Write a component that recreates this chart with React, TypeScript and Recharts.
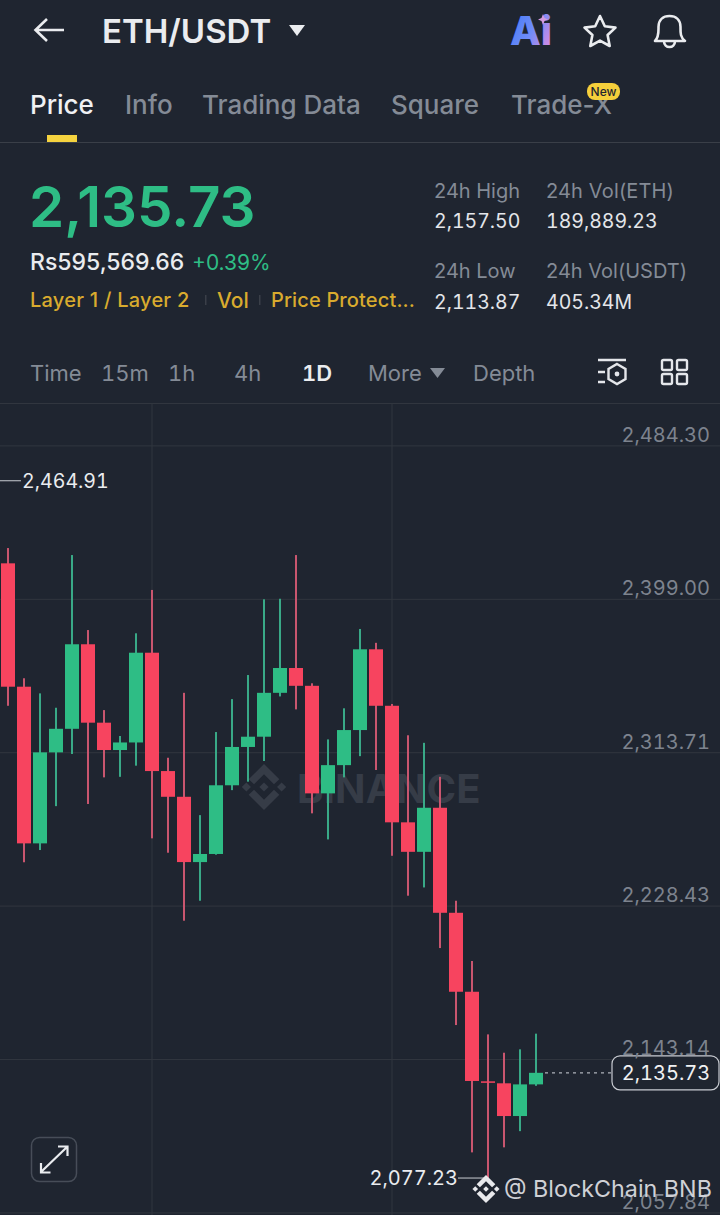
import React from 'react';
import { ComposedChart, Bar, XAxis, YAxis, CartesianGrid, ReferenceDot } from 'recharts';

const FONT = 'Inter, Roboto, sans-serif';
const TNUM: any = { fontVariantNumeric: 'tabular-nums' };
const BG = '#1f2530';
const GRID = '#31363f';
const RED = '#f7445f';
const GREEN = '#2ebd85';

const highs = [2427.5, 2355.1, 2346.7, 2338.7, 2423.6, 2381.9, 2337.4, 2323.0, 2380.1, 2404.2, 2310.9, 2347.0, 2279.0, 2325.2, 2343.5, 2356.9, 2399.0, 2399.3, 2423.6, 2352.3, 2321.1, 2338.4, 2382.5, 2374.8, 2340.8, 2323.4, 2319.2, 2300.3, 2231.4, 2197.9, 2157.1, 2146.9, 2148.8, 2157.5];
const lows = [2339.8, 2252.8, 2259.6, 2284.0, 2313.0, 2285.2, 2300.0, 2300.3, 2306.5, 2266.1, 2258.1, 2220.3, 2231.4, 2257.0, 2292.9, 2297.6, 2309.1, 2345.0, 2337.8, 2280.0, 2265.5, 2300.0, 2311.8, 2304.1, 2256.4, 2234.2, 2238.8, 2205.1, 2162.3, 2091.5, 2077.23, 2094.3, 2103.3, 2128.5];
const opens = [2419.0, 2350.4, 2263.3, 2313.9, 2327.0, 2374.0, 2330.4, 2315.2, 2319.4, 2369.3, 2303.5, 2289.2, 2252.9, 2257.4, 2295.6, 2316.9, 2322.6, 2347.0, 2360.8, 2350.9, 2291.1, 2306.8, 2326.3, 2371.2, 2339.8, 2275.0, 2258.6, 2283.1, 2224.7, 2180.8, 2131.0, 2129.9, 2111.7, 2129.3];
const closes = [2350.4, 2263.3, 2313.9, 2327.0, 2374.0, 2330.4, 2315.2, 2319.4, 2369.3, 2303.5, 2289.2, 2252.9, 2257.4, 2295.6, 2316.9, 2322.6, 2347.0, 2360.8, 2350.9, 2291.1, 2306.8, 2326.3, 2371.2, 2339.8, 2275.0, 2258.6, 2283.1, 2224.7, 2180.8, 2131.2, 2130.2, 2111.7, 2129.3, 2135.73];
const tickValues = [2484.30, 2399.00, 2313.71, 2228.43, 2143.14, 2057.84];
const tickLabels = ['2,484.30', '2,399.00', '2,313.71', '2,228.43', '2,143.14', '2,057.84'];
const slotCount = 45;
const gridSlots = [9, 24];
const periodHigh = { slot: 0, value: 2464.91, label: '2,464.91' };
const periodLow = { slot: 30, value: 2077.23, label: '2,077.23' };
const lastPrice = { slot: 33, value: 2135.73, label: '2,135.73' };

const rows = Array.from({ length: slotCount }, (_, i) =>
  i < highs.length
    ? { slot: i, range: [lows[i], highs[i]], open: opens[i], close: closes[i], high: highs[i], low: lows[i] }
    : { slot: i }
);

function Candle(props: any) {
  const { x, y, width, height, payload } = props;
  if (!payload || payload.high === undefined) return null;
  const top = Math.min(y, y + height);
  const h = Math.abs(height);
  const perUnit = h / (payload.high - payload.low);
  const bodyHi = Math.max(payload.open, payload.close);
  const bodyLo = Math.min(payload.open, payload.close);
  const bodyY = top + (payload.high - bodyHi) * perUnit;
  const bodyH = Math.max((bodyHi - bodyLo) * perUnit, 1.5);
  const up = payload.close >= payload.open;
  const cx = x + width / 2;
  return (
    <g>
      <rect x={cx - 1} y={top} width={2} height={h} fill={up ? '#39a987' : '#c9566f'} />
      <rect x={x} y={bodyY} width={width} height={bodyH} fill={up ? GREEN : RED} />
    </g>
  );
}

function PriceTick(props: any) {
  const { y, index } = props;
  return (
    <text x={710} y={y - 11} textAnchor="end" dominantBaseline="central" fontFamily={FONT} fontSize={20} fill="#7d838e" style={TNUM}>
      {tickLabels[index]}
    </text>
  );
}

function HighMark(props: any) {
  const { cy } = props;
  return (
    <g>
      <line x1={0} x2={21} y1={cy} y2={cy} stroke="#c9ccd2" strokeWidth={1} />
      <text x={22} y={cy} dominantBaseline="central" fontFamily={FONT} fontSize={19.6} fill="#eaecef" style={TNUM}>{periodHigh.label}</text>
    </g>
  );
}

function LowMark(props: any) {
  const { cx, cy } = props;
  return (
    <g>
      <line x1={cx - 30} x2={cx} y1={cy} y2={cy} stroke="#c9ccd2" strokeWidth={1} />
      <text x={cx - 30} y={cy} textAnchor="end" dominantBaseline="central" fontFamily={FONT} fontSize={20} fill="#eaecef" style={TNUM}>{periodLow.label}</text>
    </g>
  );
}

function LastMark(props: any) {
  const { cy } = props;
  return (
    <g>
      <line x1={545} x2={612} y1={cy} y2={cy} stroke="#aeb2b9" strokeWidth={1.2} strokeDasharray="3 4" />
      <rect x={612} y={cy - 17} width={107} height={34} rx={8} fill={BG} stroke="#c9ccd2" strokeWidth={1.2} />
      <text x={666} y={cy} textAnchor="middle" dominantBaseline="central" fontFamily={FONT} fontSize={20} fill="#f0f1f3" style={TNUM}>{lastPrice.label}</text>
    </g>
  );
}

function T({ x, y, size, color, weight = 400, tnum = false, spacing = 0, children }: any) {
  return (
    <span style={{ position: 'absolute', left: x, top: y, transform: 'translateY(-50%)', fontFamily: FONT, fontSize: size, color, fontWeight: weight, whiteSpace: 'nowrap', lineHeight: 1, letterSpacing: spacing, fontVariantNumeric: tnum ? 'tabular-nums' : 'normal' }}>
      {children}
    </span>
  );
}

function Diamond({ x, y, s, color }: any) {
  const u = s / 12;
  return (
    <g transform={`translate(${x},${y}) scale(${u})`} fill={color}>
      <path d="M0 -6 L4 -2 L2.6 -0.7 L0 -3.3 L-2.6 -0.7 L-4 -2 Z" />
      <path d="M0 6 L4 2 L2.6 0.7 L0 3.3 L-2.6 0.7 L-4 2 Z" />
      <path d="M-4.6 -1.2 L-3.4 0 L-4.6 1.2 L-5.8 0 Z" />
      <path d="M4.6 -1.2 L5.8 0 L4.6 1.2 L3.4 0 Z" />
      <path d="M0 -1.2 L1.2 0 L0 1.2 L-1.2 0 Z" />
    </g>
  );
}

const grey = '#848b96';
const light = '#e4e6ea';
const gold = '#d9ab2e';

export default function App() {
  return (
    <div style={{ position: 'absolute', left: 0, top: 0, width: 720, height: 1215, background: BG, overflow: 'hidden' }}>
      <svg width={720} height={404} style={{ position: 'absolute', left: 0, top: 0 }}>
        <defs>
          <linearGradient id="aiGrad" x1="0" y1="0" x2="1" y2="0.6">
            <stop offset="0" stopColor="#3f78f5" />
            <stop offset="0.6" stopColor="#6f8cf8" />
            <stop offset="1" stopColor="#c98be6" />
          </linearGradient>
        </defs>
        <path d="M36 30 H64 M47 19 L35.5 30 L47 41" fill="none" stroke="#eaecef" strokeWidth={2.6} />
        <path d="M289 25 H305 L297 36 Z" fill="#eaecef" />
        <text x={510} y={45} fontFamily={FONT} fontSize={40} fontWeight={800} fill="url(#aiGrad)">Ai</text>
        <path d="M543 14 L544.5 18 L548 19.5 L544.5 21 L543 25 L541.5 21 L538 19.5 L541.5 18 Z" fill="#d49be0" />
        <path d="M600 16 L604.8 26.2 L615.5 27.6 L607.6 35 L609.7 46 L600 40.6 L590.3 46 L592.4 35 L584.5 27.6 L595.2 26.2 Z" fill="none" stroke="#eaecef" strokeWidth={2.6} strokeLinejoin="round" />
        <path d="M655 41 C659 37 658.5 32 658.5 27 C658.5 20 663 16 669.5 16 C676 16 680.5 20 680.5 27 C680.5 32 680 37 685 41 Z" fill="none" stroke="#eaecef" strokeWidth={2.6} strokeLinejoin="round" />
        <path d="M664 41 C664 49 675 49 675 41" fill="none" stroke="#eaecef" strokeWidth={2.6} />
        <line x1={0} x2={720} y1={142.5} y2={142.5} stroke="#3a3f48" strokeWidth={1} />
        <rect x={47} y={135} width={30} height={7} fill="#f5d33f" />
        <rect x={205} y={295} width={1.5} height={10} fill="#3a3f48" />
        <rect x={259} y={295} width={1.5} height={10} fill="#3a3f48" />
        <path d="M430 368 H445 L437.5 378 Z" fill="#848b96" />
        <path d="M598 360 H626 M598 372 H605 M598 382 H605" stroke="#e4e6ea" strokeWidth={2.4} fill="none" />
        <path d="M617 364 L625.5 369 V379 L617 384 L608.5 379 V369 Z" fill="none" stroke="#e4e6ea" strokeWidth={2.4} />
        <circle cx={617} cy={374} r={2.4} fill="#e4e6ea" />
        <g fill="none" stroke="#e4e6ea" strokeWidth={2.4}>
          <rect x={662} y={360} width={10} height={10} rx={1.5} />
          <rect x={677} y={360} width={10} height={10} rx={1.5} />
          <rect x={662} y={374} width={10} height={10} rx={1.5} />
          <rect x={677} y={374} width={10} height={10} rx={1.5} />
        </g>
        <line x1={0} x2={720} y1={403.5} y2={403.5} stroke={GRID} strokeWidth={1} />
      </svg>
      <T x={102} y={31} size={33} color="#eaecef" weight={600}>ETH/USDT</T>
      <T x={30} y={105} size={26} color="#f0f1f3" weight={500}>Price</T>
      <T x={125} y={105} size={26} color={grey} weight={500}>Info</T>
      <T x={202} y={105} size={26} color={grey} weight={500}>Trading Data</T>
      <T x={391} y={105} size={26} color={grey} weight={500}>Square</T>
      <T x={511} y={105} size={26} color={grey} weight={500}>Trade-X</T>
      <div style={{ position: 'absolute', left: 587, top: 83, width: 33, height: 17, borderRadius: 8, background: '#f5cf3b', color: '#1f2530', fontFamily: FONT, fontSize: 12, fontWeight: 500, textAlign: 'center', lineHeight: '17px' }}>New</div>

      <T x={29} y={207} size={56.5} color={GREEN} weight={600}>2,135.73</T>
      <T x={30} y={262} size={23} color="#eaecef" weight={500}>Rs595,569.66</T>
      <T x={192} y={262} size={21} color={GREEN}>+0.39%</T>
      <T x={30} y={300} size={20} color={gold} weight={500} spacing={0.25}>Layer 1 / Layer 2</T>
      <T x={217} y={300} size={21} color={gold} weight={500}>Vol</T>
      <T x={271} y={300} size={20} color={gold} weight={500} spacing={0.15}>Price Protect...</T>

      <T x={434} y={191} size={20} color={grey}>24h High</T>
      <T x={434} y={222} size={19.5} color={light} tnum>2,157.50</T>
      <T x={546} y={191} size={20} color={grey} spacing={0.15}>24h Vol(ETH)</T>
      <T x={546} y={222} size={19.5} color={light} tnum>189,889.23</T>
      <T x={434} y={271} size={20} color={grey}>24h Low</T>
      <T x={434} y={303} size={19.5} color={light} tnum>2,113.87</T>
      <T x={546} y={271} size={20} color={grey}>24h Vol(USDT)</T>
      <T x={546} y={303} size={19.5} color={light} tnum>405.34M</T>

      <T x={30} y={373} size={22} color={grey}>Time</T>
      <T x={101} y={373} size={22} color={grey} tnum>15m</T>
      <T x={168} y={373} size={22} color={grey} tnum>1h</T>
      <T x={234} y={373} size={22} color={grey}>4h</T>
      <T x={302} y={373} size={22} color="#eaecef" weight={600} tnum>1D</T>
      <T x={368} y={373} size={22} color={grey}>More</T>
      <T x={473} y={373} size={22} color={grey}>Depth</T>

      <svg width={720} height={812} style={{ position: 'absolute', left: 0, top: 403 }}>
        <Diamond x={264} y={384} s={46} color="#363c47" />
        <text x={297} y={400} fontFamily={FONT} fontSize={40} fontWeight={700} fill="#363c47" letterSpacing={0.2}>BINANCE</text>
      </svg>

      <div style={{ position: 'absolute', left: 0, top: 403 }}>
        <ComposedChart width={720} height={812} data={rows} margin={{ top: 0, right: 0, bottom: 0, left: 0 }}>
          <CartesianGrid stroke={GRID} strokeWidth={1} horizontalValues={tickValues} verticalValues={gridSlots} />
          <XAxis dataKey="slot" type="category" hide />
          <YAxis
            orientation="right"
            mirror
            width={60}
            type="number"
            domain={[2056.68, 2508.14]}
            ticks={tickValues}
            interval={0}
            axisLine={false}
            tickLine={false}
            tick={<PriceTick />}
          />
          <Bar dataKey="range" barSize={14} isAnimationActive={false} shape={<Candle />} />
          <ReferenceDot x={periodHigh.slot} y={periodHigh.value} r={0} shape={<HighMark />} />
          <ReferenceDot x={periodLow.slot} y={periodLow.value} r={0} shape={<LowMark />} />
          <ReferenceDot x={lastPrice.slot} y={lastPrice.value} r={0} shape={<LastMark />} />
        </ComposedChart>
      </div>

      <svg width={720} height={1215} style={{ position: 'absolute', left: 0, top: 0, pointerEvents: 'none' }}>
        <rect x={31.5} y={1137.5} width={45} height={44} rx={8} fill={BG} stroke="#474d58" strokeWidth={1.5} />
        <path d="M41 1172 L67 1147 M58 1146.5 H67.5 V1156 M41 1163 V1172.5 H50.5" fill="none" stroke="#eaecef" strokeWidth={2.2} />
        <Diamond x={486} y={1189} s={28} color="#e8e9ec" />
        <text x={504} y={1197} fontFamily={FONT} fontSize={23.3} fill="#cfd1d6">@ BlockChain BNB</text>
      </svg>
    </div>
  );
}
